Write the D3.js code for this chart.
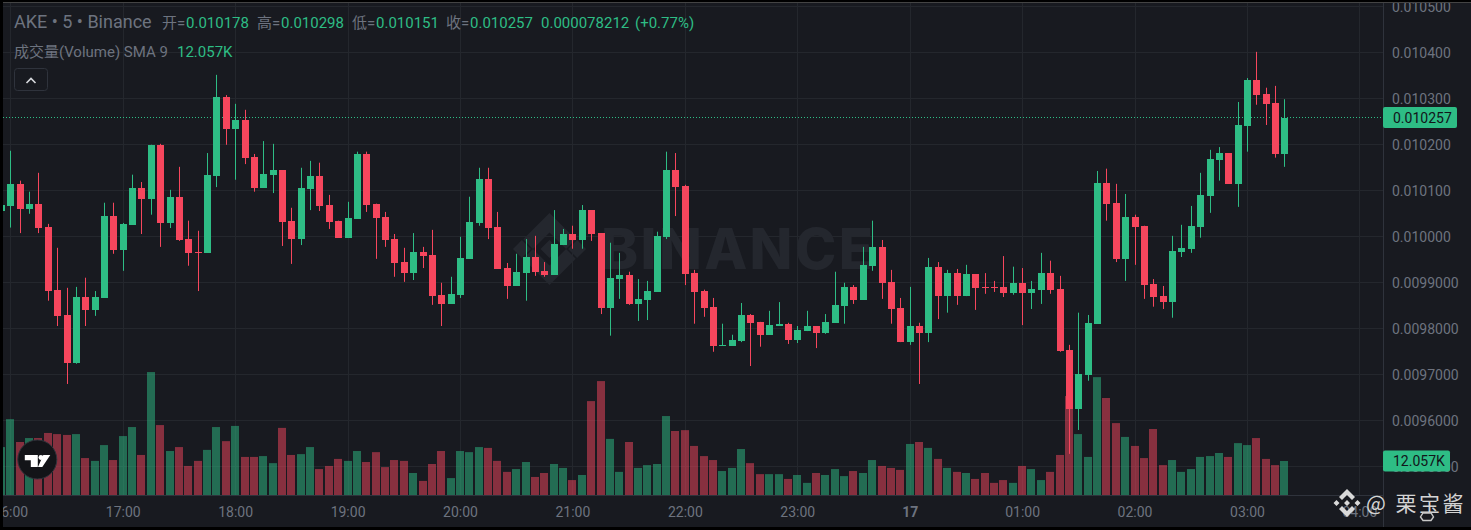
<!DOCTYPE html>
<html>
<head>
<meta charset="utf-8">
<script src="https://cdn.jsdelivr.net/npm/d3@7"></script>
<style>
  html, body { margin: 0; padding: 0; background: #000; overflow: hidden; }
  svg { display: block; }
  text { font-family: Roboto, sans-serif; }
</style>
</head>
<body>
<div id="chart"></div>
<script>
/* Prices are in millionths (10257 = 0.010257), volume is in thousands.
   First candle (index 0) is the one at 16:00, one partial candle sits left of it */
const firstIndex = -1;
const opens = [10055,10066,10114,10060,10071,10020,9884,9829,9725,9868,9840,9866,10044,9970,10025,10105,10081,10199,10029,10086,9994,9966,9964,10131,10303,10234,10253,10173,10105,10134,10144,10034,9994,10103,10131,10068,10034,9997,10038,10179,10071,10042,9994,9944,9920,9966,9960,9873,9853,9873,9951,10029,10125,10020,9931,9892,9920,9955,9925,9916,9981,10005,9992,10057,10007,9844,9907,9916,9853,9862,9879,9999,10144,10110,9920,9881,9847,9762,9762,9773,9829,9814,9786,9805,9810,9775,9794,9805,9790,9812,9849,9890,9862,9936,9977,9901,9844,9770,9805,9790,9934,9870,9920,9870,9918,9890,9890,9890,9877,9899,9877,9884,9920,9886,9753,9625,9699,9810,10116,10073,9951,10042,10023,9897,9870,9857,9966,9973,10020,10088,10166,10181,10114,10240,10340,10310,10290,10178];
const highs = [10068,10186,10121,10097,10138,10027,9975,9888,9890,9910,9881,10073,10073,10029,10134,10118,10199,10201,10101,10151,10034,10012,10181,10351,10307,10288,10275,10179,10207,10201,10144,10062,10149,10164,10160,10090,10034,10075,10184,10184,10071,10053,10005,9975,10007,9977,10014,9899,9912,9999,10086,10149,10149,10053,9942,9962,9994,10001,9944,10057,10016,10023,10068,10057,10007,9986,9964,9923,9907,9903,10010,10184,10181,10112,9927,9884,9866,9810,9786,9855,9831,9814,9838,9857,9812,9805,9838,9805,9831,9923,9899,9894,9977,10034,9992,9927,9866,9890,9812,9953,9944,9927,9929,9938,9918,9920,9903,9957,9934,9931,9903,9964,9947,9914,9764,9834,9829,10142,10147,10114,10092,10047,10023,9907,9892,10001,10025,10066,10138,10188,10194,10181,10292,10344,10401,10323,10327,10298];
const lows = [10055,10019,10007,10049,10007,9860,9805,9679,9723,9805,9827,9866,9962,9925,10025,10005,10047,9977,10018,9990,9936,9881,9964,10107,10199,10123,10157,10097,10105,10094,9979,9940,9981,10057,10055,10016,9997,9997,10038,10053,9951,9977,9912,9901,9905,9931,9851,9805,9853,9866,9951,10023,9994,9929,9864,9892,9860,9914,9912,9916,9981,9973,9973,9990,9831,9784,9864,9851,9816,9818,9879,9994,10044,9894,9810,9825,9749,9762,9762,9770,9718,9760,9786,9805,9766,9768,9794,9757,9788,9812,9810,9853,9862,9925,9864,9810,9770,9764,9679,9770,9820,9834,9851,9870,9840,9875,9879,9868,9873,9807,9842,9853,9875,9749,9527,9579,9686,9810,10034,9944,9903,9938,9864,9847,9842,9823,9955,9964,9997,10051,10121,10114,10064,10184,10286,10242,10171,10151];
const closes = [10068,10114,10060,10071,10018,9881,9827,9725,9868,9840,9868,10044,9970,10027,10105,10081,10199,10029,10086,9992,9964,9964,10134,10303,10234,10253,10171,10105,10136,10144,10031,9994,10105,10131,10066,10031,9997,10040,10179,10068,10040,9992,9942,9920,9966,9957,9870,9853,9875,9953,10031,10125,10018,9929,9892,9923,9955,9923,9916,9984,10005,9992,10057,10005,9844,9910,9916,9853,9864,9881,10001,10144,10107,9918,9879,9844,9762,9764,9775,9829,9812,9786,9807,9810,9775,9797,9805,9790,9814,9851,9890,9862,9938,9977,9899,9842,9770,9805,9790,9934,9870,9920,9870,9918,9888,9888,9888,9877,9899,9877,9886,9920,9884,9751,9625,9701,9812,10116,10071,9951,10042,10020,9894,9868,9857,9968,9975,10023,10090,10168,10181,10114,10242,10340,10307,10288,10179,10257];
const volumes = [17.0,26.9,18.8,20.2,20.2,22.0,21.6,21.3,21.6,13.1,12.1,17.7,12.4,20.9,24.1,14.2,43.6,24.8,15.6,17.0,10.3,12.1,16.0,24.1,19.1,24.5,13.5,13.5,13.8,11.3,23.8,14.2,14.5,17.0,9.2,10.3,12.8,12.1,15.6,11.7,15.2,9.9,12.4,12.1,7.8,5.0,11.0,15.6,6.0,15.6,15.2,17.0,16.7,12.1,8.2,9.2,11.7,6.4,7.8,11.0,9.6,5.3,7.1,33.3,40.4,19.9,8.2,18.8,9.6,10.6,11.0,28.0,22.7,23.0,17.4,13.8,12.4,8.5,9.6,16.3,11.3,7.4,7.4,7.4,5.7,7.1,4.3,7.8,7.1,9.2,6.7,8.5,7.8,12.4,10.3,9.6,8.9,18.1,18.8,16.7,12.8,9.6,8.2,7.8,5.7,7.8,4.3,5.3,4.3,10.3,9.2,5.3,8.2,14.2,35.1,21.6,13.5,41.8,34.4,25.5,20.6,17.4,13.1,23.4,10.6,12.4,8.2,9.2,13.5,13.8,14.9,13.5,18.4,17.7,20.2,12.8,10.6,12.057];
const priceTicks = [10500,10400,10300,10200,10100,10000,9900,9800,9700,9600,9500];
const priceLabels = ["0.010500","0.010400","0.010300","0.010200","0.010100","0.010000","0.0099000","0.0098000","0.0097000","0.0096000","0.0095000"];
const timeTicks = [0,12,24,36,48,60,72,84,96,108,120,132,144];
const timeLabels = ["16:00","17:00","18:00","19:00","20:00","21:00","22:00","23:00","17","01:00","02:00","03:00","04:00"];

const width = 1471, height = 530;
const green = "#2ebd85", red = "#f6465d";
const bg = "#181a20", gridColor = "#24272d", axisText = "#6d737f";
const cjk = "Roboto, 'Noto Sans CJK SC', sans-serif";

const candles = opens.map((o, i) => ({
  i: i + firstIndex, open: o, high: highs[i], low: lows[i], close: closes[i], vol: volumes[i]
}));
const colorOf = d => d.close >= d.open ? green : red;

const svg = d3.select("#chart").append("svg")
  .attr("width", width).attr("height", height);

svg.append("rect").attr("x", 3).attr("y", 3).attr("width", width - 3).attr("height", 524).attr("fill", bg);

/* Scales */
const xScale = d3.scaleLinear().domain([0, 144]).range([10.3, 1359.4]);
const yScale = d3.scaleLinear().domain([10000, 10400]).range([236.3, 52.3]);
const volScale = d3.scaleLinear().domain([0, 12.057]).range([495, 461]);
const px = i => Math.round(xScale(i));

/* Grid lines */
svg.append("g").selectAll("line").data(priceTicks).join("line")
  .attr("x1", 3).attr("x2", 1383)
  .attr("y1", d => Math.round(yScale(d)) + 0.5).attr("y2", d => Math.round(yScale(d)) + 0.5)
  .attr("stroke", gridColor);
svg.append("g").selectAll("line").data(timeTicks).join("line")
  .attr("x1", d => px(d) + 0.5).attr("x2", d => px(d) + 0.5)
  .attr("y1", 3).attr("y2", 495)
  .attr("stroke", gridColor);

/* Binance watermark */
const mark = svg.append("g").attr("fill", "#24272e");
mark.append("g").attr("transform", "translate(549.5,249) scale(0.69)")
  .selectAll("path")
  .data([
    "M0,-52 L38,-14 L24,0 L0,-24 L-24,0 L-38,-14 Z",
    "M0,52 L38,14 L24,0 L0,24 L-24,0 L-38,14 Z",
    "M0,-13 L13,0 L0,13 L-13,0 Z",
    "M-40,-13 L-27,0 L-40,13 L-53,0 Z",
    "M40,-13 L53,0 L40,13 L27,0 Z"
  ])
  .join("path").attr("d", d => d);
mark.append("text").attr("x", 601).attr("y", 269)
  .attr("font-size", 56).attr("font-weight", 800).attr("textLength", 272)
  .style("font-family", "Inter, Roboto, sans-serif")
  .text("BINANCE");

/* Volume bars */
svg.append("g").selectAll("rect").data(candles).join("rect")
  .attr("x", d => px(d.i) - 4)
  .attr("width", 8)
  .attr("y", d => volScale(d.vol))
  .attr("height", d => volScale(0) - volScale(d.vol))
  .attr("fill", colorOf)
  .attr("fill-opacity", 0.5);

/* Current price line */
const lastY = Math.round(yScale(10257)) - 0.5;
svg.append("line")
  .attr("x1", 3).attr("x2", 1383)
  .attr("y1", lastY).attr("y2", lastY)
  .attr("stroke", green).attr("stroke-dasharray", "1 2")
  .attr("shape-rendering", "crispEdges");

/* Candles */
const candle = svg.append("g").selectAll("g").data(candles).join("g");
candle.append("rect")
  .attr("x", d => px(d.i))
  .attr("width", 1)
  .attr("y", d => yScale(d.high))
  .attr("height", d => yScale(d.low) - yScale(d.high))
  .attr("fill", colorOf);
candle.append("rect")
  .attr("x", d => px(d.i) - 3)
  .attr("width", 7)
  .attr("y", d => Math.round(yScale(Math.max(d.open, d.close))))
  .attr("height", d => Math.max(1, Math.round(yScale(Math.min(d.open, d.close))) - Math.round(yScale(Math.max(d.open, d.close)))))
  .attr("fill", colorOf);

/* Axis panel edges */
svg.append("rect").attr("x", 1384).attr("y", 3).attr("width", 87).attr("height", 524).attr("fill", bg);
svg.append("rect").attr("x", 3).attr("y", 496).attr("width", 1381).attr("height", 31).attr("fill", bg);
svg.append("line").attr("x1", 1383.5).attr("x2", 1383.5).attr("y1", 3).attr("y2", 527).attr("stroke", "#2f333c");
svg.append("line").attr("x1", 3).attr("x2", 1384).attr("y1", 495.5).attr("y2", 495.5).attr("stroke", "#2f333c");

/* Axes */
const yAxis = d3.axisRight(yScale).tickValues(priceTicks)
  .tickFormat((d, i) => priceLabels[i]).tickSize(0).tickPadding(9);
svg.append("g").attr("transform", "translate(1383,1)").call(yAxis)
  .call(g => g.select(".domain").remove())
  .call(g => g.selectAll("text").attr("fill", axisText).attr("font-size", 14).style("font-family", "Roboto, sans-serif"));

const xAxis = d3.axisBottom(xScale).tickValues(timeTicks)
  .tickFormat((d, i) => timeLabels[i]).tickSize(0).tickPadding(12);
svg.append("g").attr("transform", "translate(0,495)").call(xAxis)
  .call(g => g.select(".domain").remove())
  .call(g => g.selectAll("text").attr("fill", axisText).attr("font-size", 14).style("font-family", "Roboto, sans-serif")
    .attr("font-weight", (d, i) => timeLabels[i] === "17" ? 700 : 400));

/* Price and volume tags */
const tag = (y, w, label) => {
  svg.append("rect").attr("x", 1383).attr("y", y - 10.5).attr("width", w).attr("height", 21).attr("rx", 2).attr("fill", green);
  svg.append("text").attr("x", 1393).attr("y", y + 5).attr("font-size", 14).attr("fill", "#12151a").text(label);
};
tag(yScale(10257) - 0.5, 74, "0.010257");
tag(volScale(12.057), 67, "12.057K");

/* Legend */
const legendParts = [
  [14, "AKE \u2022 5 \u2022 Binance", axisText, 18],
  [162, "\u5f00=", axisText, 15], [186, "0.010178", green, 15],
  [257, "\u9ad8=", axisText, 15], [281, "0.010298", green, 15],
  [352, "\u4f4e=", axisText, 15], [376, "0.010151", green, 15],
  [446, "\u6536=", axisText, 15], [470, "0.010257", green, 15],
  [541, "0.000078212", green, 15], [635, "(+0.77%)", green, 15]
];
svg.append("g").selectAll("text").data(legendParts).join("text")
  .attr("x", d => d[0]).attr("y", 28)
  .attr("fill", d => d[2]).attr("font-size", d => d[3])
  .style("font-family", cjk)
  .text(d => d[1]);
const volParts = [
  [14, "\u6210\u4ea4\u91cf(Volume) SMA 9", axisText],
  [177, "12.057K", green]
];
svg.append("g").selectAll("text").data(volParts).join("text")
  .attr("x", d => d[0]).attr("y", 57)
  .attr("fill", d => d[2]).attr("font-size", 15)
  .style("font-family", cjk)
  .text(d => d[1]);

/* Collapse button */
svg.append("rect").attr("x", 14.5).attr("y", 68.5).attr("width", 33).attr("height", 22).attr("rx", 3)
  .attr("fill", "none").attr("stroke", "#2f333c");
svg.append("path").attr("d", "M26.5,83 L31,78.5 L35.5,83").attr("fill", "none").attr("stroke", "#d6d8dc").attr("stroke-width", 1.6);

/* TradingView badge */
const badge = svg.append("g").attr("transform", "translate(37.3,459.5)");
badge.append("circle").attr("r", 19.5).attr("fill", "#131418").attr("stroke", "#30333b").attr("stroke-width", 1);
badge.append("path").attr("fill", "#fff").attr("d", "M-12.5,-4.5 H0.5 V7.5 H-6.5 V0.7 H-12.5 Z M6,-4.5 H13 L5,7.5 H0.7 Z");
badge.append("circle").attr("cx", 3.6).attr("cy", -2).attr("r", 2.4).attr("fill", "#fff");

/* Author watermark */
const author = svg.append("g");
author.append("path").attr("fill", "#d9d9d9").attr("transform", "translate(1347,503)")
  .attr("d", "M0,-14 L8,-6 L5,-3 L0,-8 L-5,-3 L-8,-6 Z M0,14 L8,6 L5,3 L0,8 L-5,3 L-8,6 Z M0,-3 L3,0 L0,3 L-3,0 Z M-10.5,-3 L-7.5,0 L-10.5,3 L-13.5,0 Z M10.5,-3 L13.5,0 L10.5,3 L7.5,0 Z");
author.append("text").attr("x", 1366).attr("y", 511).attr("fill", "#d4d4d4").attr("font-size", 21)
  .attr("letter-spacing", 2.5)
  .style("font-family", "'Noto Sans CJK SC', sans-serif").text("@ \u6817\u5b9d\u9171");
author.append("path").attr("fill", "none").attr("stroke", "#c8c8c8").attr("stroke-width", 1.4)
  .attr("d", "M1423,513 H1431 L1433.5,517 L1431,520.5 H1423 L1420.5,517 Z");

/* Dark frame */
svg.append("rect").attr("width", width).attr("height", 2).attr("fill", "#000");
svg.append("rect").attr("y", 2).attr("width", width).attr("height", 1).attr("fill", "#444");
svg.append("rect").attr("width", 3).attr("height", height).attr("fill", "#000");
svg.append("rect").attr("y", 527).attr("width", width).attr("height", 3).attr("fill", "#000");
</script>
</body>
</html>
